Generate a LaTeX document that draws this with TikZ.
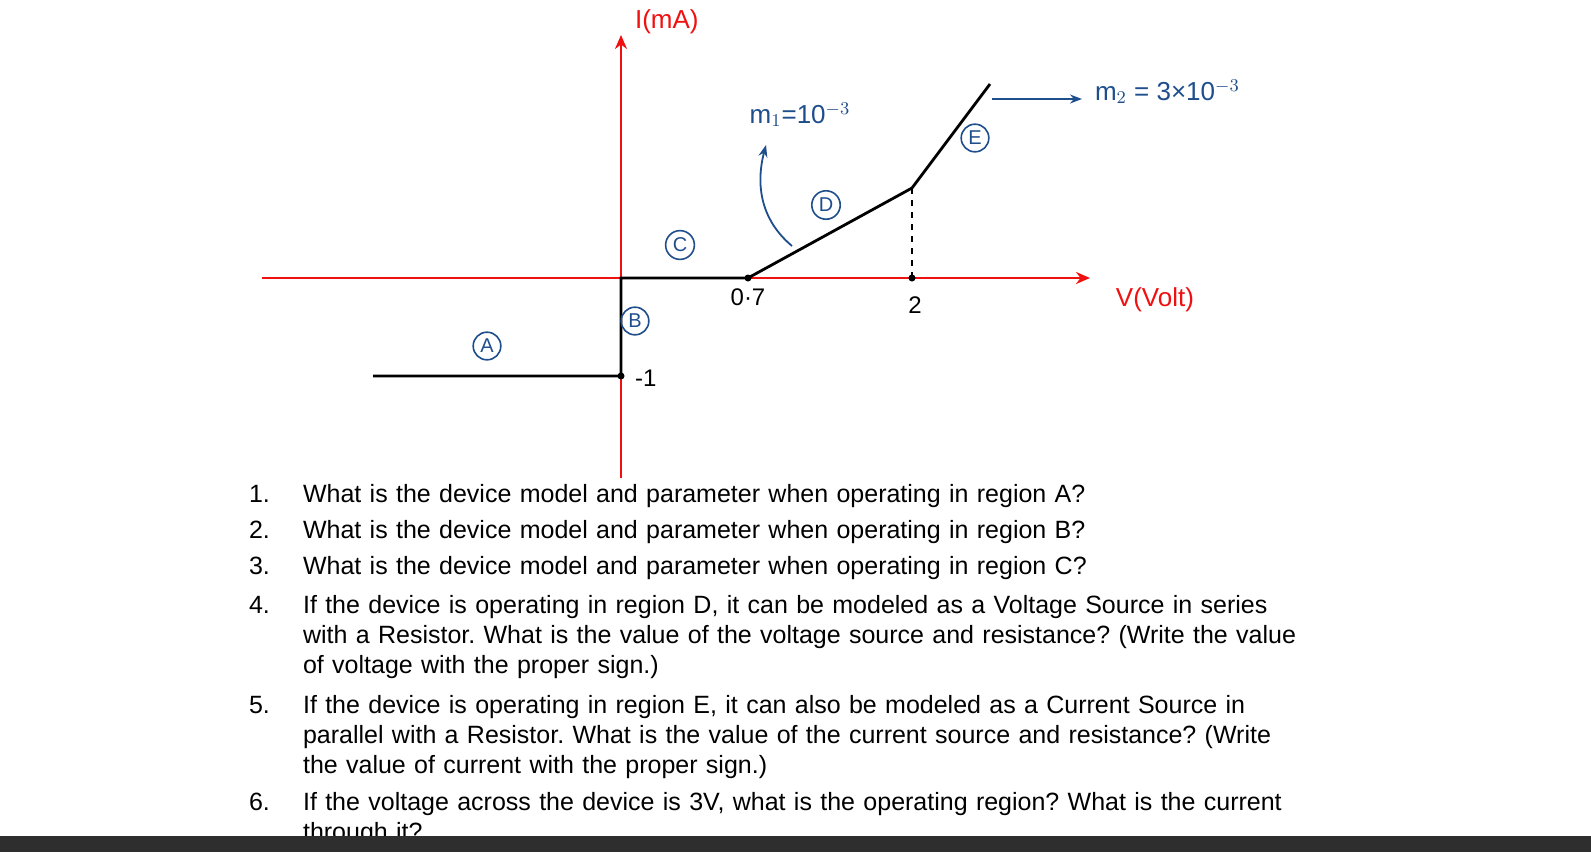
\documentclass[tikz,border=0pt]{standalone}
\usepackage{fontspec}
\setmainfont{Liberation Sans}
\usetikzlibrary{arrows.meta}
\definecolor{hblue}{HTML}{1F4E8C}
\definecolor{hred}{HTML}{F01010}
\begin{document}
\frenchspacing
\begin{tikzpicture}[x=0.5pt,y=-0.5pt,
  axis/.style={hred,line width=1.3pt,-{Stealth[length=7pt,width=6pt,open]}},
  curve/.style={black,line width=1.4pt},
  circ/.style={circle,draw=hblue,text=hblue,line width=0.8pt,inner sep=1.5pt,font=\fontsize{10}{10}\selectfont},
  dot/.style={circle,fill=black,inner sep=0pt,minimum size=3.5pt},
  q/.style={anchor=base west,font=\fontsize{12.5}{15}\selectfont,text width=560pt,align=left},
  qn/.style={anchor=base east,font=\fontsize{12.5}{15}\selectfont}]
\useasboundingbox (0,0) rectangle (1591,852);
\fill[white] (0,0) rectangle (1591,852);
% axes
\coordinate (yb) at (621,478); \coordinate (yt) at (621,35);
\coordinate (xl) at (262,278); \coordinate (xr) at (1090,278);
\draw[axis] (yb) -- (yt);
\draw[axis] (xl) -- (xr);
\node[hred,anchor=west,font=\fontsize{13}{13}\selectfont] (Ilab) at (628,22) {I(mA)};
\node[hred,font=\fontsize{13}{13}\selectfont] (Vlab) at (1155,300) {V(Volt)};
% curve
\coordinate (p0) at (373,376); \coordinate (p1) at (621,376); \coordinate (p2) at (621,278);
\coordinate (p3) at (748,278); \coordinate (p4) at (912,188); \coordinate (p5) at (990,84);
\coordinate (p6) at (912,278);
\draw[curve] (p0) -- (p1) -- (p2) -- (p3) -- (p4) -- (p5);
\draw[black,line width=0.8pt,dashed] (p4) -- (p6);
\node[dot] (d1) at (p1) {}; \node[dot] (d2) at (p3) {}; \node[dot] (d3) at (p6) {};
\node[font=\fontsize{12}{12}\selectfont,anchor=west] (lm1) at (628,378) {-1};
\node[font=\fontsize{12}{12}\selectfont] (l07) at (748,297) {0·7};
\node[font=\fontsize{12}{12}\selectfont] (l2) at (915,305) {2};
% region labels
\node[circ] (A) at (487,346) {A};
\node[circ] (B) at (635,321) {B};
\node[circ] (C) at (680,245) {C};
\node[circ] (D) at (826,205) {D};
\node[circ] (E) at (975,138) {E};
% slopes
\node[hblue,font=\fontsize{13}{13}\selectfont] (m1) at (800,115) {m$_1$=10$^{-3}$};
\coordinate (m1s) at (792,246); \coordinate (m1e) at (766,145);
\draw[hblue,line width=0.9pt,-{Stealth[length=6pt]}] (m1s) .. controls (755,215) and (758,175) .. (m1e);
\coordinate (m2s) at (992,99); \coordinate (m2e) at (1082,99);
\draw[hblue,line width=0.9pt,-{Stealth[length=6pt]}] (m2s) -- (m2e);
\node[hblue,anchor=west,font=\fontsize{13}{13}\selectfont] (m2) at (1088,92) {m$_2$ = 3×10$^{-3}$};
% questions
\node[qn] (n1) at (277,502) {1.}; \node[q] (t1) at (296,502) {What is the device model and parameter when operating in region A?};
\node[qn] (n2) at (277,538) {2.}; \node[q] (t2) at (296,538) {What is the device model and parameter when operating in region B?};
\node[qn] (n3) at (277,574) {3.}; \node[q] (t3) at (296,574) {What is the device model and parameter when operating in region C?};
\node[qn] (n4) at (277,613) {4.}; \node[q] (t4) at (296,613) {If the device is operating in region D, it can be modeled as a Voltage Source in series\\with a Resistor. What is the value of the voltage source and resistance? (Write the value\\of voltage with the proper sign.)};
\node[qn] (n5) at (277,713) {5.}; \node[q] (t5) at (296,713) {If the device is operating in region E, it can also be modeled as a Current Source in\\parallel with a Resistor. What is the value of the current source and resistance? (Write\\the value of current with the proper sign.)};
\node[qn] (n6) at (277,810) {6.}; \node[q] (t6) at (296,810) {If the voltage across the device is 3V, what is the operating region? What is the current\\through it?};
% bottom bar
\fill[black!82] (0,836) rectangle (1591,852);
\end{tikzpicture}
\end{document}
